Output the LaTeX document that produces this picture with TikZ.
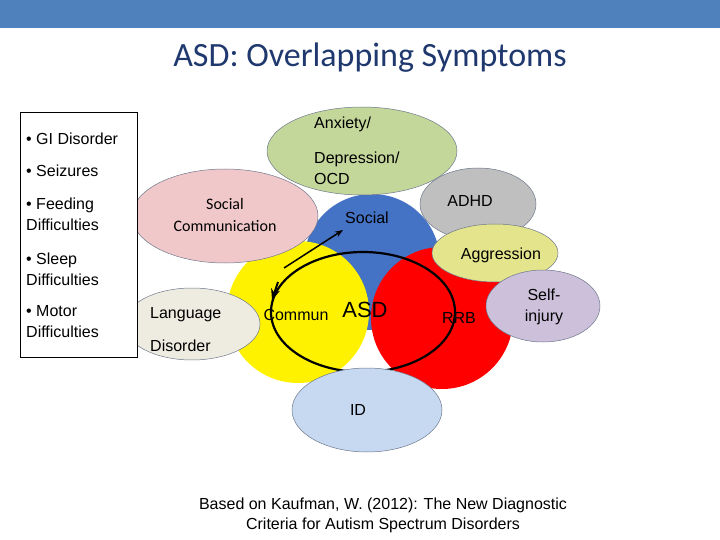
\documentclass[tikz,border=0pt]{standalone}
\usepackage{fontspec}
\setmainfont{Liberation Sans}
\newfontfamily\calibri{Carlito}
\usetikzlibrary{arrows.meta, positioning, shapes.geometric}
\definecolor{barblue}{RGB}{79,129,189}
\definecolor{titleblue}{RGB}{31,56,110}
\definecolor{socblue}{RGB}{68,114,196}
\definecolor{anxgreen}{RGB}{196,215,155}
\definecolor{commpink}{RGB}{240,200,202}
\definecolor{adhdgray}{RGB}{191,191,191}
\definecolor{aggyellow}{RGB}{228,228,140}
\definecolor{selfviolet}{RGB}{204,192,218}
\definecolor{langbeige}{RGB}{238,236,225}
\definecolor{idblue}{RGB}{198,217,241}
\definecolor{rimgray}{RGB}{110,120,140}
\begin{document}
\begin{tikzpicture}[x=1pt, y=-1pt,
    core/.style={circle, draw=none, minimum size=#1},
    blob/.style={ellipse, draw=rimgray, line width=0.5pt, inner sep=0pt},
    lbl/.style={font=\fontsize{16}{16}\selectfont, align=left, inner sep=0pt},
    item/.style={font=\fontsize{16}{21}\selectfont, align=left, anchor=west, inner sep=0pt}]
    \useasboundingbox (0,0) rectangle (720,540);
    \fill[barblue] (0,0) rectangle (720,28);
    \node[font=\calibri\fontsize{34}{34}\selectfont, text=titleblue] (title) at (370,58) {ASD: Overlapping Symptoms};

    %Circles
    \node[core=136pt, fill=socblue] (social) at (372,262) {};
    \node[core=142pt, fill=yellow] (commun) at (298,312) {};
    \node[core=142pt, fill=red] (rrb) at (442,318) {};

    % Loop
    \draw[line width=2.2pt] (363,312) ellipse [x radius=92, y radius=60];
    \coordinate (loopstart) at (284,268);
    \coordinate (looptip) at (343,230);
    \coordinate (loopturn) at (272,300);

    %Ellipses
    \node[blob, fill=anxgreen, minimum width=190pt, minimum height=88pt] (anx) at (362,151) {};
    \node[blob, fill=commpink, minimum width=186pt, minimum height=94pt] (soccomm) at (225,216) {};
    \node[blob, fill=adhdgray, minimum width=116pt, minimum height=72pt] (adhd) at (478,204) {};
    \node[blob, fill=aggyellow, minimum width=126pt, minimum height=58pt] (aggr) at (495,253) {};
    \node[blob, fill=selfviolet, minimum width=114pt, minimum height=72pt] (self) at (543,306) {};
    \node[blob, fill=langbeige, minimum width=136pt, minimum height=72pt] (lang) at (192,324) {};
    \node[blob, fill=idblue, minimum width=150pt, minimum height=84pt] (id) at (367,410) {};

    % Arrows
    \draw[-{Stealth[length=8pt]}, line width=1.5pt] (loopstart) -- (looptip);
    \draw[-{Stealth[length=11pt, width=9pt]}, line width=2pt] (278,282) -- (loopturn);

    %Box
    \draw[fill=white, draw=black, line width=0.6pt] (20,112) rectangle (137,357);
    \node[item] (gi) at (26,139) {• GI Disorder};
    \node[item] (seiz) at (26,171) {• Seizures};
    \node[item] (feed) at (26,214) {• Feeding\\Difficulties};
    \node[item] (sleep) at (26,269) {• Sleep\\Difficulties};
    \node[item] (motor) at (26,322) {• Motor\\Difficulties};

    %Labels
    \node[lbl, anchor=west] at (314,124) {Anxiety/};
    \node[lbl, anchor=west, align=left, font=\fontsize{16}{21}\selectfont] at (314,168) {Depression/\\OCD};
    \node[font=\calibri\fontsize{16}{22}\selectfont, align=center] at (225,215) {Social\\Communication};
    \node[lbl] at (367,218) {Social};
    \node[lbl] at (470,201) {ADHD};
    \node[lbl] at (501,255) {Aggression};
    \node[lbl, align=center, font=\fontsize{16}{21}\selectfont] at (544,307) {Self-\\injury};
    \node[lbl] at (296,315) {Commun};
    \node[lbl, font=\fontsize{22}{22}\selectfont] at (365,310) {ASD};
    \node[lbl] at (459,318) {RRB};
    \node[lbl] at (358,410) {ID};
    \node[lbl, anchor=west] at (150,315) {Language};
    \node[lbl, anchor=west] at (150,346) {Disorder};
    \node[font=\fontsize{16}{20}\selectfont, align=center] (source) at (383,515) {Based on Kaufman, W. (2012): The New Diagnostic\\Criteria for Autism Spectrum Disorders};
\end{tikzpicture}
\end{document}
